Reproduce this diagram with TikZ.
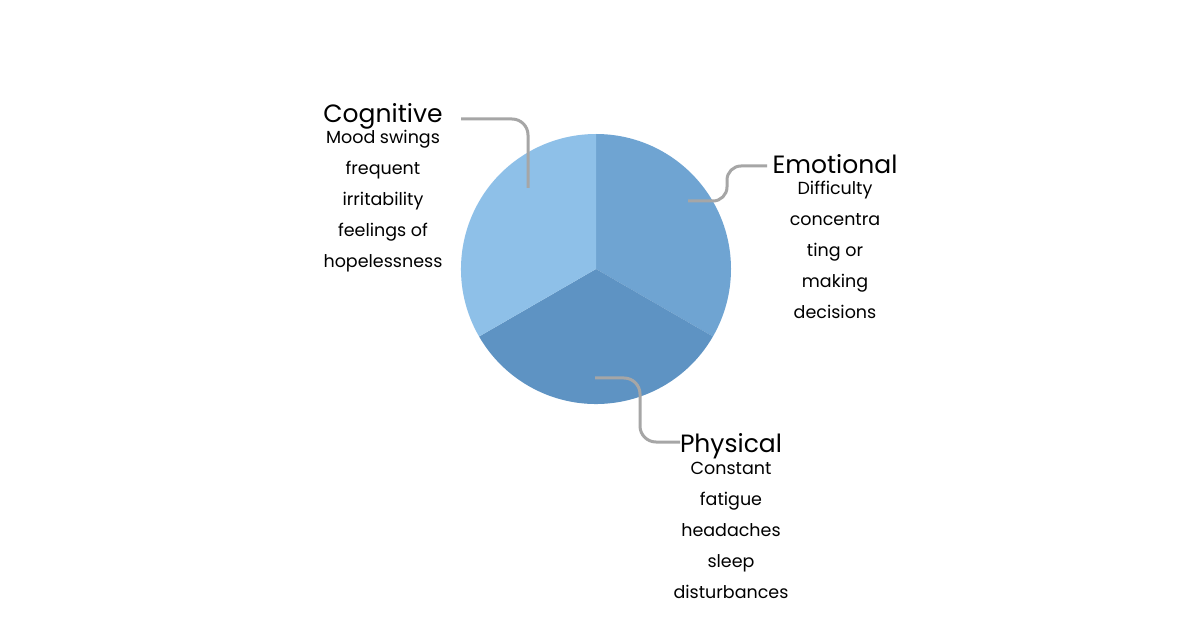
\documentclass[tikz,border=0pt]{standalone}
\usepackage{fontspec}
\setmainfont{Poppins}
\definecolor{sliceL}{HTML}{8EC0E8}
\definecolor{sliceR}{HTML}{6FA4D2}
\definecolor{sliceB}{HTML}{5E93C3}
\definecolor{linkgray}{HTML}{A6A6A6}
\begin{document}
\begin{tikzpicture}[x=1pt,y=1pt,
  title/.style={font=\fontsize{25}{28}\selectfont, inner sep=0pt, text=black},
  body/.style={font=\fontsize{17.5}{31}\selectfont, align=center, inner sep=0pt, text=black},
  link/.style={draw=linkgray, line width=3pt, rounded corners=16pt}]
\useasboundingbox (0,0) rectangle (1200,630);
\fill[white] (0,0) rectangle (1200,630);
\coordinate (c) at (596,361);
% pie slices
\fill[sliceR] (c) -- ++(90:135) arc[start angle=90, end angle=-30, radius=135] -- cycle;
\fill[sliceB] (c) -- ++(-30:135) arc[start angle=-30, end angle=-150, radius=135] -- cycle;
\fill[sliceL] (c) -- ++(-150:135) arc[start angle=-150, end angle=-270, radius=135] -- cycle;
% labels
\node[title] (cogT) at (383,514) {Cognitive};
\node[body] (cogB) at (383,429) {Mood swings\\frequent\\irritability\\feelings of\\hopelessness};
\node[title] (emoT) at (835,466) {Emotional};
\node[body] (emoB) at (835,380.5) {Difficulty\\concentra\\ting or\\making\\decisions};
\node[title] (phyT) at (731,184) {Physical};
\node[body] (phyB) at (731,100) {Constant\\fatigue\\headaches\\sleep\\disturbances};
% connector anchors
\coordinate (cogS) at (528,442);
\coordinate (cogE) at (461,511);
\coordinate (emoS) at (688,429);
\coordinate (emoE) at (767,464);
\coordinate (phyS) at (595,252);
\coordinate (phyE) at (680,188);
\draw[link] (cogS) -- (cogS |- cogE) -- (cogE);
\draw[link, rounded corners=14pt] (emoS) -- (727,429) -- (727,464) -- (emoE);
\draw[link] (phyS) -- (640,252) -- (640,188) -- (phyE);
\end{tikzpicture}
\end{document}
